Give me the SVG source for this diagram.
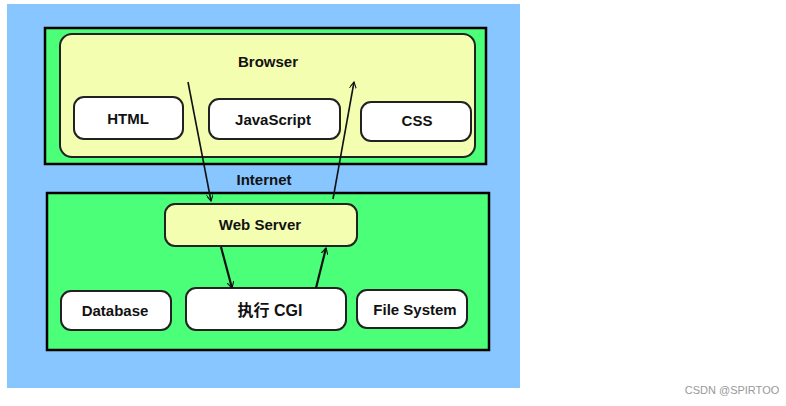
<svg xmlns="http://www.w3.org/2000/svg" width="786" height="406" viewBox="0 0 786 406">
<style>
.t{font-family:"Liberation Sans",Arial,"Noto Sans CJK SC",sans-serif;font-weight:bold;font-size:15px;text-anchor:middle;fill:#111}
.box{fill:#fff;stroke:#222;stroke-width:2}
.yel{fill:#f4feb0;stroke:#222;stroke-width:2}
.grn{fill:#4bff78;stroke:#000;stroke-width:2.5}
.c{stroke:#111;stroke-width:1.6;fill:none;marker-end:url(#a)}
.c2{stroke:#111;stroke-width:2.2;fill:none;marker-end:url(#a)}
</style>
<defs><marker id="a" viewBox="0 0 10 10" refX="9" refY="5" markerWidth="7" markerHeight="7" markerUnits="userSpaceOnUse" orient="auto"><path d="M0,0 L9,5 L0,10" fill="none" stroke="#111" stroke-width="1.6"/></marker></defs>
<rect x="7" y="4" width="513" height="384" fill="#88c6ff"/>
<rect class="grn" x="45" y="28" width="441" height="136"/>
<rect class="grn" x="47" y="193" width="442" height="157"/>
<g id="browser"><rect class="yel" x="60" y="34" width="415" height="123" rx="12"/><text class="t" x="268" y="67">Browser</text></g>
<g id="html"><rect class="box" x="74" y="97" width="109" height="42" rx="10"/><text class="t" x="128" y="124">HTML</text></g>
<g id="js"><rect class="box" x="209" y="99" width="131" height="40" rx="10"/><text class="t" x="273" y="125">JavaScript</text></g>
<g id="css"><rect class="box" x="361" y="102" width="110" height="39" rx="10"/><text class="t" x="417" y="126">CSS</text></g>
<text class="t" x="264" y="185">Internet</text>
<g id="webserver"><rect class="yel" x="165" y="204" width="192" height="42" rx="10"/><text class="t" x="260" y="230">Web Server</text></g>
<g id="database"><rect class="box" x="61" y="291" width="110" height="39" rx="10"/><text class="t" x="115" y="316">Database</text></g>
<g id="cgi"><rect class="box" x="186" y="288" width="160" height="42" rx="10"/><text class="t" x="270" y="316" style="font-size:16px">执行 CGI</text></g>
<g id="fs"><rect class="box" x="357" y="290" width="110" height="38" rx="10"/><text class="t" x="415" y="315">File System</text></g>
<g id="connectors">
<line class="c" x1="188" y1="82" x2="211" y2="201"/>
<line class="c" x1="333" y1="199" x2="354" y2="82"/>
<line class="c2" x1="221" y1="247" x2="232" y2="288"/>
<line class="c2" x1="316" y1="288" x2="326" y2="248"/>
</g>
<text x="732" y="394" style="font-family:'Liberation Sans',sans-serif;font-size:11px;fill:#999;text-anchor:middle">CSDN @SPIRTOO</text>
</svg>
